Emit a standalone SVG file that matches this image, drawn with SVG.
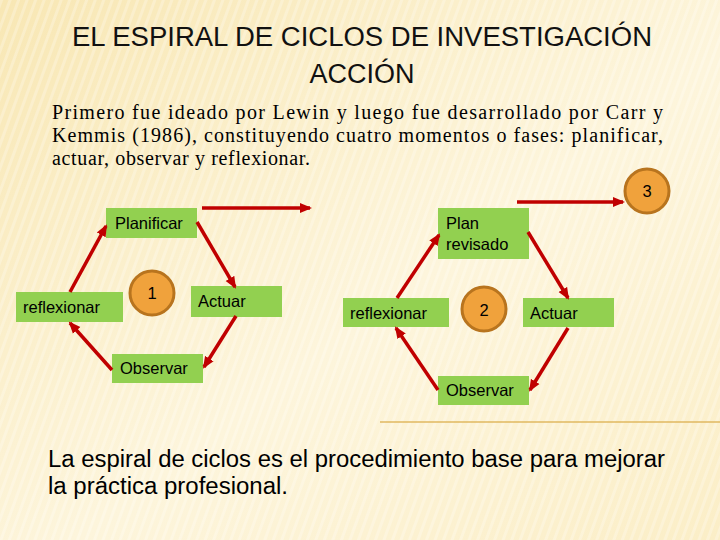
<svg xmlns="http://www.w3.org/2000/svg" width="720" height="540" viewBox="0 0 720 540">
<defs>
<linearGradient id="bg" x1="0" y1="0" x2="1" y2="1">
<stop offset="0" stop-color="#f8e7b4"/><stop offset="0.55" stop-color="#fdf5dc"/><stop offset="1" stop-color="#fbeec7"/>
</linearGradient>
<pattern id="st" width="8" height="8" patternUnits="userSpaceOnUse" patternTransform="rotate(20)">
<rect width="3" height="8" fill="#ffffff" opacity="0.25"/>
</pattern>
<marker id="ah" markerWidth="12" markerHeight="12" refX="10" refY="6" orient="auto" markerUnits="userSpaceOnUse">
<path d="M0,1 L12,6 L0,11 Z" fill="#c00000"/>
</marker>
</defs>
<style>
.box{fill:#92d050}
.lbl{font-family:"Liberation Sans",Arial,sans-serif;font-size:16.5px;fill:#000}
.circ{fill:#f0a23c;stroke:#b8741e;stroke-width:3}
.con line{stroke:#c00000;stroke-width:3.5;marker-end:url(#ah)}
.p{font-family:"Liberation Serif",serif;font-size:20px;fill:#000}
.b{font-family:"Liberation Sans",Arial,sans-serif;font-size:23px;fill:#000}
</style>
<rect width="720" height="540" fill="url(#bg)"/>
<rect width="720" height="540" fill="url(#st)"/>
<text x="362" y="46" text-anchor="middle" font-family="Liberation Sans,sans-serif" font-size="27" fill="#111" textLength="580" lengthAdjust="spacingAndGlyphs">EL ESPIRAL DE CICLOS DE INVESTIGACIÓN</text>
<text x="362" y="83" text-anchor="middle" font-family="Liberation Sans,sans-serif" font-size="27" fill="#111">ACCIÓN</text>
<text class="p" x="52" y="119" textLength="611" lengthAdjust="spacing">Primero fue ideado por Lewin y luego fue desarrollado por Carr y</text>
<text class="p" x="52" y="142" textLength="611" lengthAdjust="spacing">Kemmis (1986), constituyendo cuatro momentos o fases: planificar,</text>
<text class="p" x="52" y="165" textLength="258" lengthAdjust="spacing">actuar, observar y reflexionar.</text>
<line x1="380" y1="422" x2="720" y2="422" stroke="#e0b860" stroke-width="1.5"/>
<g id="n-planificar"><rect class="box" x="106" y="208" width="91" height="30"/><text class="lbl" x="115" y="229">Planificar</text></g>
<g id="n-reflexionar1"><rect class="box" x="16" y="292" width="107" height="30"/><text class="lbl" x="23" y="313">reflexionar</text></g>
<g id="n-c1"><circle class="circ" cx="152" cy="293" r="22"/><text class="lbl" x="152" y="299" text-anchor="middle">1</text></g>
<g id="n-actuar1"><rect class="box" x="191" y="286" width="91" height="31"/><text class="lbl" x="198" y="307">Actuar</text></g>
<g id="n-observar1"><rect class="box" x="112" y="354" width="91" height="29"/><text class="lbl" x="120" y="374">Observar</text></g>
<g id="n-plan2"><rect class="box" x="438" y="208" width="91" height="51"/><text class="lbl" x="446" y="229">Plan</text><text class="lbl" x="446" y="250">revisado</text></g>
<g id="n-reflexionar2"><rect class="box" x="343" y="298" width="106" height="29"/><text class="lbl" x="350" y="319">reflexionar</text></g>
<g id="n-c2"><circle class="circ" cx="484" cy="309" r="22"/><text class="lbl" x="484" y="316" text-anchor="middle">2</text></g>
<g id="n-actuar2"><rect class="box" x="523" y="298" width="91" height="29"/><text class="lbl" x="530" y="319">Actuar</text></g>
<g id="n-observar2"><rect class="box" x="438" y="376" width="91" height="29"/><text class="lbl" x="446" y="396">Observar</text></g>
<g id="n-c3"><circle class="circ" cx="647" cy="191" r="22"/><text class="lbl" x="647" y="197" text-anchor="middle">3</text></g>
<g class="con">
<line x1="202" y1="208" x2="310" y2="208"/>
<line x1="70" y1="292" x2="106" y2="226"/>
<line x1="197" y1="222" x2="235" y2="287"/>
<line x1="236" y1="316" x2="204" y2="367"/>
<line x1="112" y1="370" x2="70" y2="323"/>
<line x1="517" y1="202" x2="623" y2="202"/>
<line x1="397" y1="298" x2="439" y2="235"/>
<line x1="528" y1="232" x2="568" y2="298"/>
<line x1="568" y1="328" x2="530" y2="390"/>
<line x1="438" y1="390" x2="396" y2="328"/>
</g>
<text class="b" x="48" y="467" textLength="617" lengthAdjust="spacingAndGlyphs">La espiral de ciclos es el procedimiento base para mejorar</text>
<text class="b" x="48" y="494" textLength="240" lengthAdjust="spacingAndGlyphs">la práctica profesional.</text>
</svg>
